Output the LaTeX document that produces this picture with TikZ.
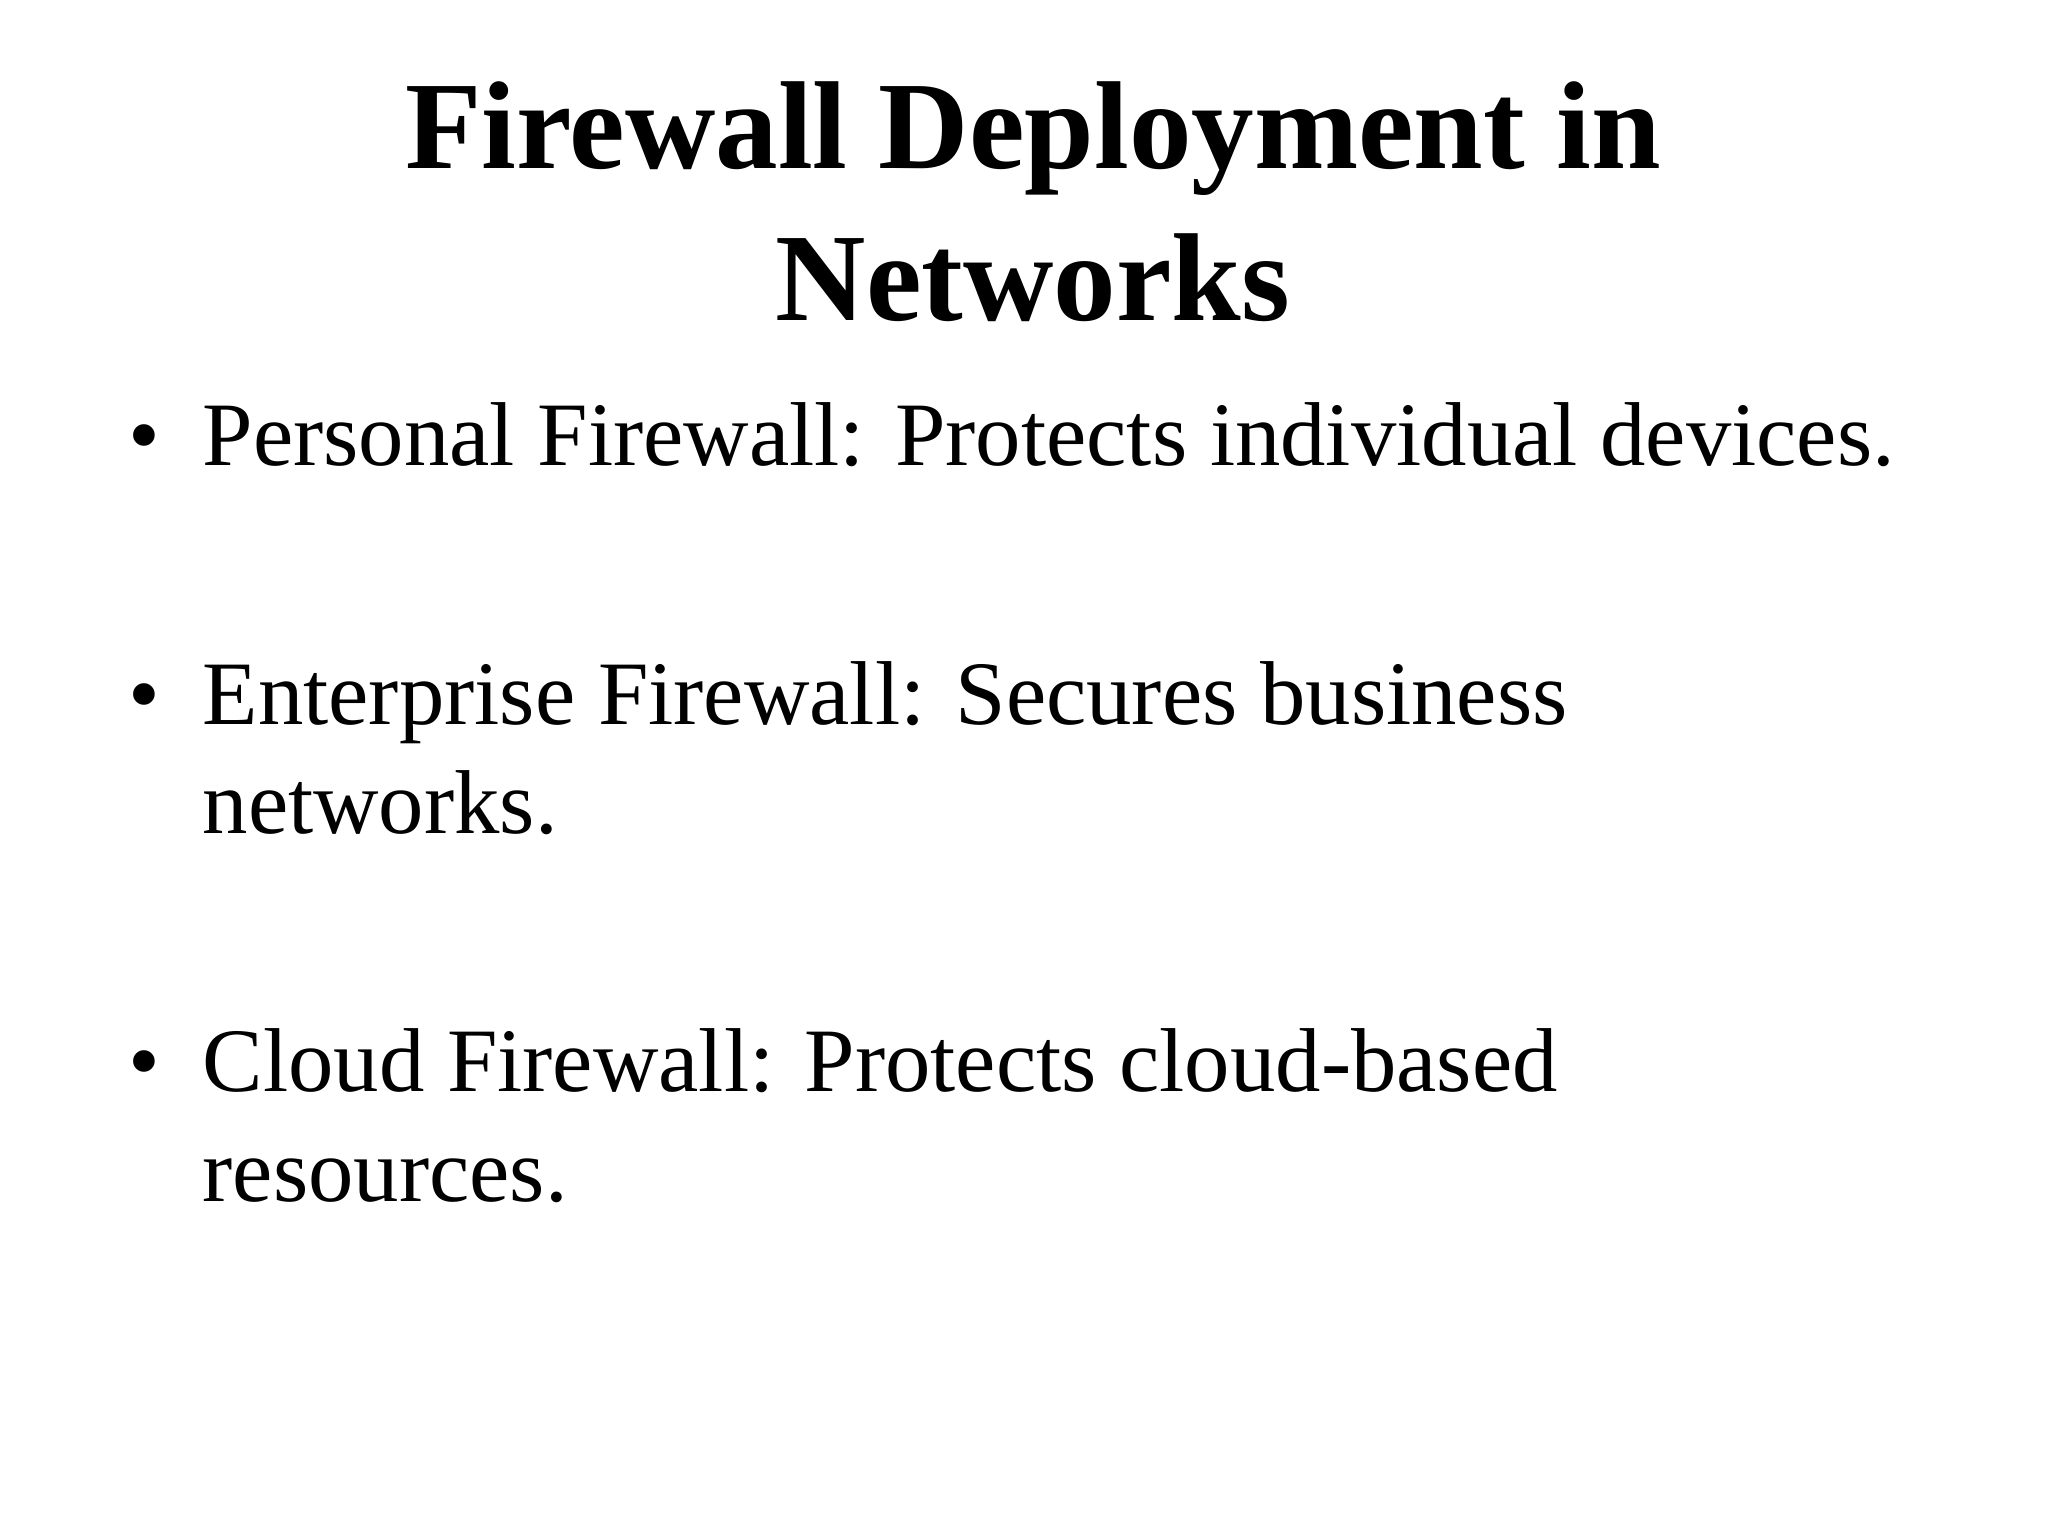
\documentclass[tikz,border=0pt]{standalone}
\usepackage{fontspec}
\setmainfont{Liberation Serif}
\begin{document}
\begin{tikzpicture}
\useasboundingbox[fill=white] (0,0) rectangle (20.48,-15.36);
\tikzset{ttl/.style={anchor=base,inner sep=0pt,font=\fontsize{35.6pt}{43pt}\selectfont\bfseries},
 bodytxt/.style={anchor=base west,inner sep=0pt,font=\fontsize{25.8pt}{31pt}\selectfont},
 bul/.style={anchor=base west,inner sep=0pt,font=\fontsize{25.8pt}{31pt}\selectfont}}
\node[ttl] (t1) at (10.33,-1.69) {Firewall Deployment in};
\node[ttl] (t2) at (10.33,-3.21) {Networks};
\node[bul] (b1) at (1.28,-4.66) {•};
\node[bodytxt] (l1) at (2.02,-4.66) {Personal Firewall: Protects individual devices.};
\node[bul] (b2) at (1.28,-7.24) {•};
\node[bodytxt] (l2) at (2.02,-7.24) {Enterprise Firewall: Secures business};
\node[bodytxt] (l2b) at (2.02,-8.34) {networks.};
\node[bul] (b3) at (1.28,-10.91) {•};
\node[bodytxt] (l3) at (2.02,-10.91) {Cloud Firewall: Protects cloud-based};
\node[bodytxt] (l3b) at (2.02,-12.01) {resources.};
\end{tikzpicture}
\end{document}
